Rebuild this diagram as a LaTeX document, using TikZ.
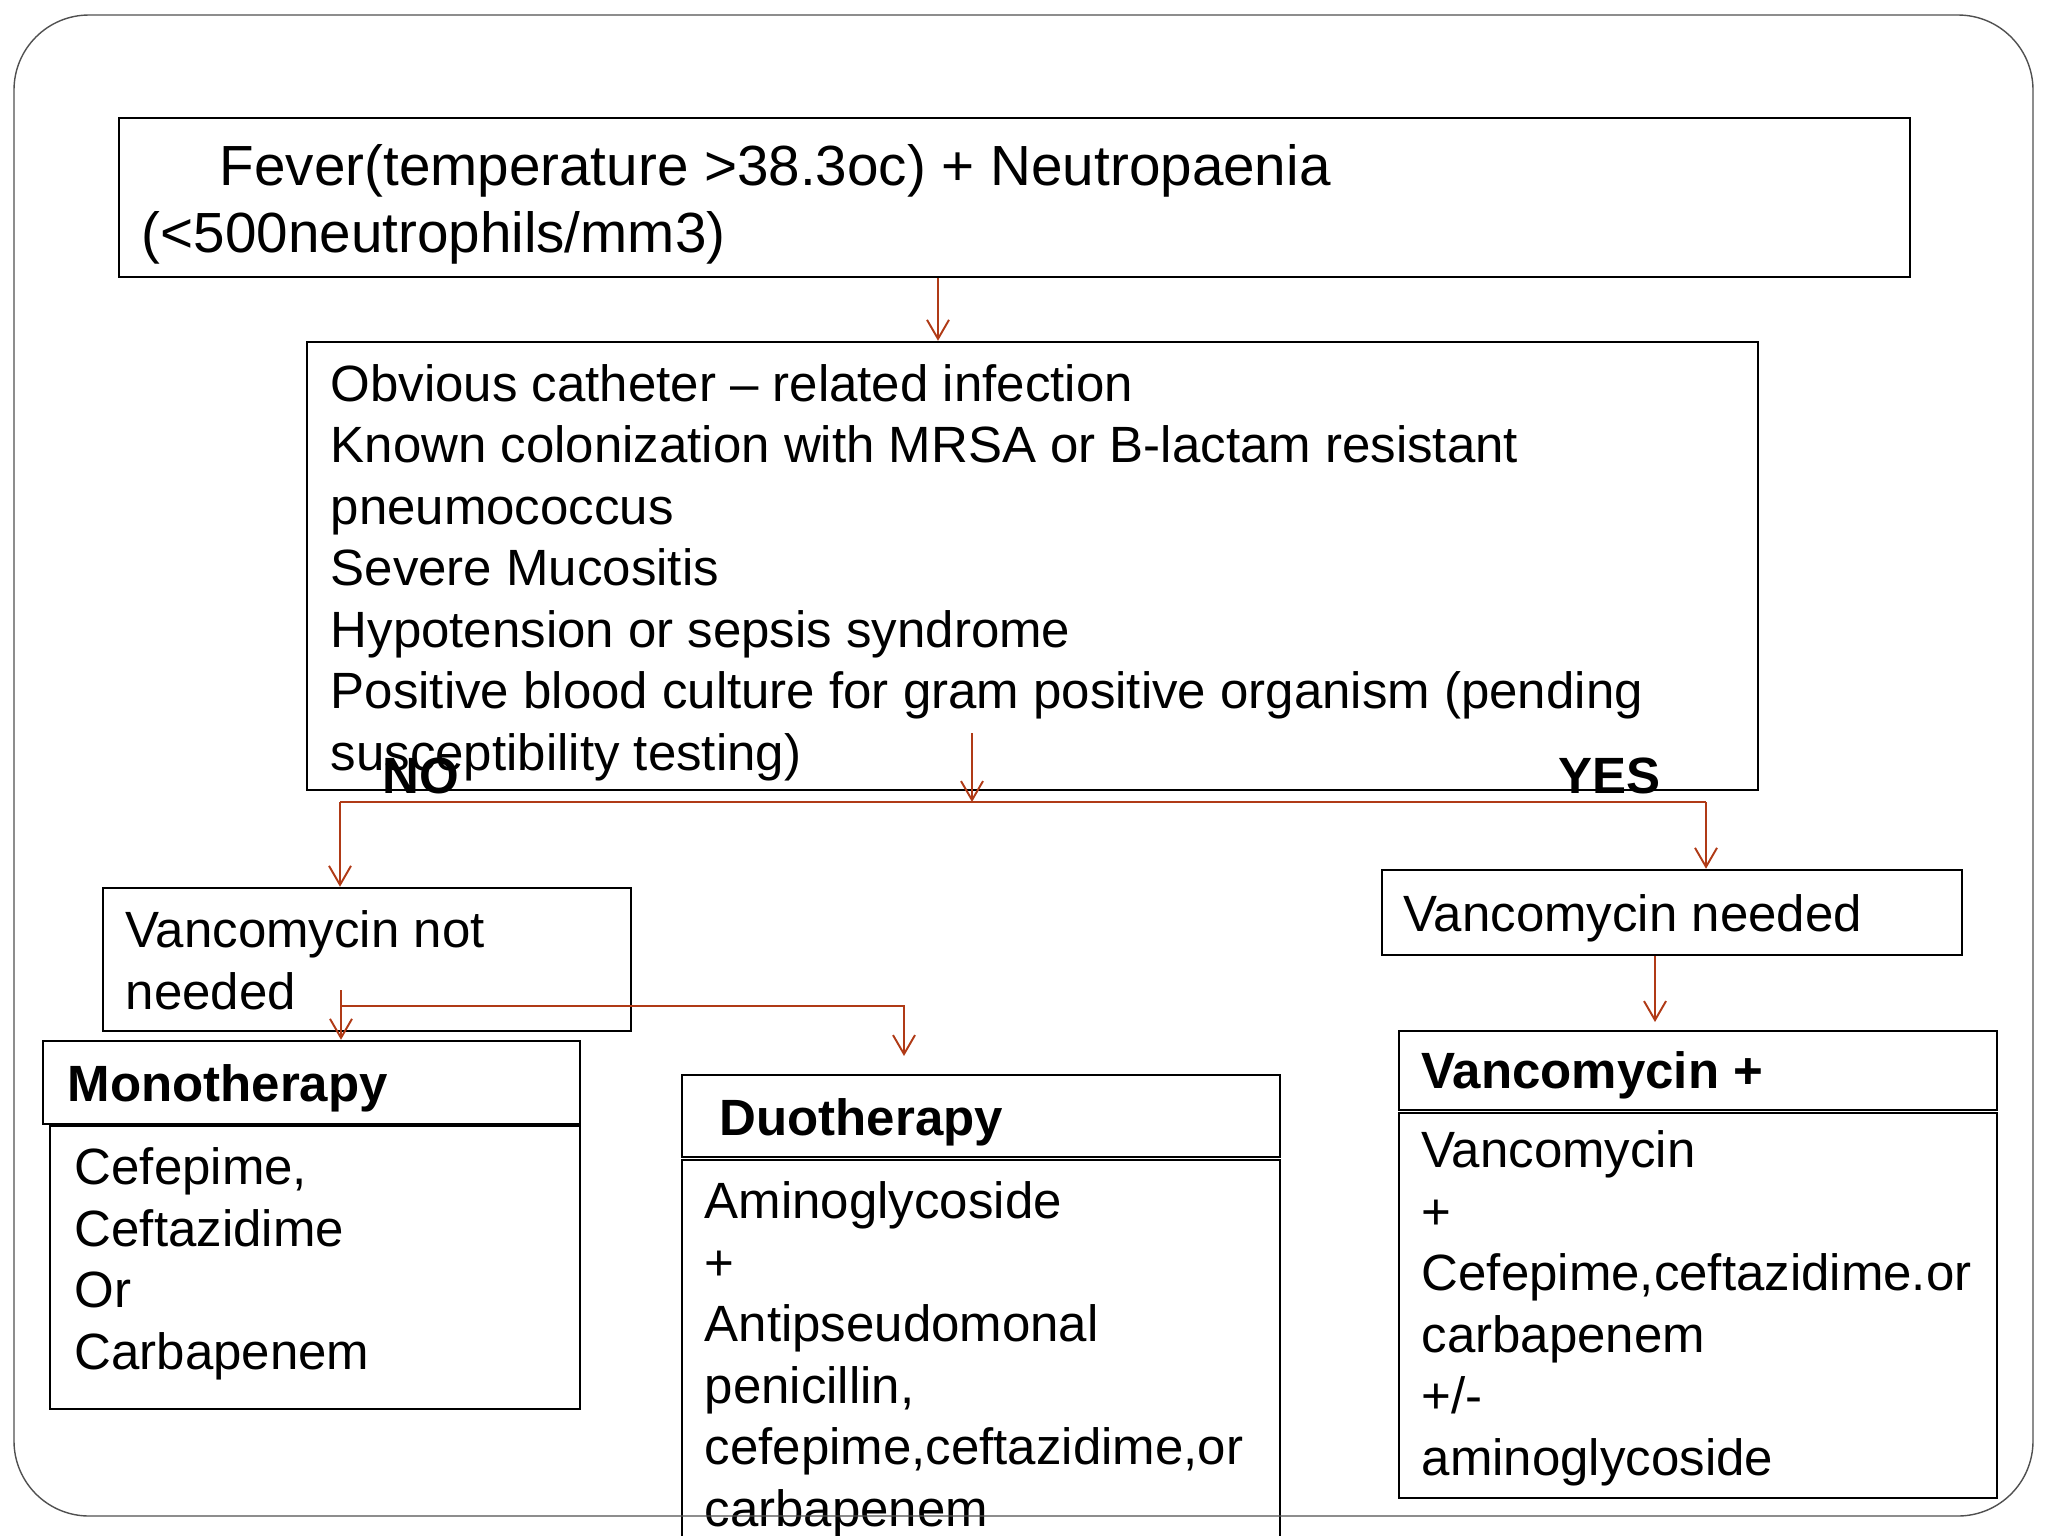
\documentclass[tikz,border=0pt]{standalone}
\usepackage{fontspec}
\setmainfont{Liberation Sans}
\usetikzlibrary{arrows.meta,fit,positioning}
\definecolor{arrowred}{RGB}{176,58,22}
\definecolor{framegray}{RGB}{80,80,80}
\newcommand{\bodyfont}{\fontsize{14.5}{17.47}\selectfont}
\newcommand{\topfont}{\fontsize{16.1}{19.06}\selectfont}

\begin{document}
\begin{tikzpicture}[x=0.01cm,y=-0.01cm,>={Straight Barb[length=1.9mm,width=2.2mm]},
                    box/.style={draw,line width=0.7pt,inner sep=0pt},
                    txt/.style={anchor=base west,inner sep=0pt,align=left,font=\bodyfont},
                    head/.style={txt,font=\bodyfont\bfseries},
                    arr/.style={->,draw=arrowred,line width=0.55pt},
                    link/.style={draw=arrowred,line width=0.55pt}]
    \useasboundingbox (0,0) rectangle (2048,1536);
    % boxes
    \node [box,fit={(119,118) (1910,277)}]  (fever)     {};
    \node [box,fit={(307,342) (1758,790)}]  (crit)      {};
    \node [box,fit={(103,888) (631,1031)}]  (vnot)      {};
    \node [box,fit={(1382,870) (1962,955)}] (vneed)     {};
    \node [box,fit={(43,1041) (580,1124)}]  (monohead)  {};
    \node [box,fit={(50,1126) (580,1409)}]  (monobody)  {};
    \node [box,fit={(682,1075) (1280,1157)}] (duohead)  {};
    \node [box,fit={(682,1160) (1280,1560)}] (duobody)  {};
    \node [box,fit={(1399,1031) (1997,1110)}] (vplushead) {};
    \node [box,fit={(1399,1113) (1997,1498)}] (vplusbody) {};
    % texts (multi-line texts are placed by their last baseline)
    \node [txt,font=\topfont] (fever1) at (219,185) {Fever(temperature >38.3oc) + Neutropaenia};
    \node [txt,font=\topfont] (fever2) at (141,252) {(<500neutrophils/mm3)};
    \node [txt] (crittext) at (330,770) {Obvious catheter – related infection\\
        Known colonization with MRSA or B-lactam resistant\\
        pneumococcus\\
        Severe Mucositis\\
        Hypotension or sepsis syndrome\\
        Positive blood culture for gram positive organism (pending\\
        susceptibility testing)};
    \node [head] (no)  at (382,793)  {NO};
    \node [head] (yes) at (1558,793) {YES};
    \node [txt] (vnottext)  at (125,1009) {Vancomycin not\\needed};
    \node [txt] (vneedtext) at (1403,931) {Vancomycin needed};
    \node [head] (monotitle) at (67,1101) {Monotherapy};
    \node [txt] (monotext) at (74,1369) {Cefepime,\\Ceftazidime\\Or\\Carbapenem};
    \node [head] (duotitle) at (719,1135) {Duotherapy};
    \node [txt] (duotext) at (704,1526) {Aminoglycoside\\+\\Antipseudomonal\\penicillin,\\
        cefepime,ceftazidime,or\\carbapenem};
    \node [head] (vplustitle) at (1421,1088) {Vancomycin +};
    \node [txt] (vplustext) at (1421,1475) {Vancomycin\\+\\Cefepime,ceftazidime.or\\
        carbapenem\\+/-\\aminoglycoside};
    % connectors
    \coordinate (t1)      at (938,0);
    \coordinate (critout) at (972,733);
    \coordinate (split)   at (972,802);
    \coordinate (nojoin)  at (340,802);
    \coordinate (yesjoin) at (1706,802);
    \coordinate (vnotout) at (341,990);
    \coordinate (monojoin) at (341,1006);
    \coordinate (duojoin) at (904,1006);
    \coordinate (duoend)  at (904,1056);
    \coordinate (t2)      at (1655,0);
    \coordinate (vplusend) at (1655,1022);
    \draw [arr]  (fever.south -| t1) -- (crit.north -| t1);
    \draw [arr]  (critout) -- (split);
    \draw [link] (nojoin) -- (yesjoin);
    \draw [arr]  (nojoin) -- (nojoin |- vnot.north);
    \draw [arr]  (yesjoin) -- (yesjoin |- vneed.north);
    \draw [arr]  (vnotout) -- (vnotout |- monohead.north);
    \draw [arr]  (monojoin) -- (duojoin) -- (duoend);
    \draw [arr]  (vneed.south -| t2) -- (vplusend);
    % slide frame
    \draw [framegray,line width=0.4pt,rounded corners=0.75cm] (14,15) rectangle (2033,1516);
\end{tikzpicture}
\end{document}
